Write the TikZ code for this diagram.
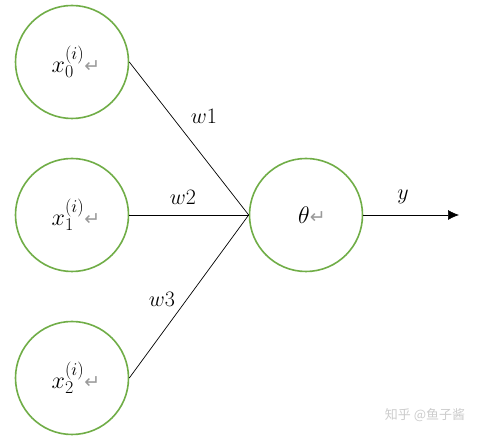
\documentclass[tikz,border=0pt]{standalone}
\usepackage{fontspec}
\usepackage{fix-cm}
\newfontfamily\symfont{DejaVu Sans}
\newfontfamily\cjk{Noto Sans CJK SC}
\usetikzlibrary{arrows.meta}
\definecolor{ringgreen}{HTML}{70AD47}
\definecolor{retgray}{HTML}{9A9A9A}
\DeclareMathSizes{24}{24}{18}{14}
\newcommand{\retmark}{{\color{retgray}\symfont\fontsize{19}{22}\selectfont ↵}}
\newcommand{\bigtxt}{\fontsize{24}{28}\selectfont}
\newcommand{\wtxt}{\fontsize{22}{26}\selectfont}
\begin{document}
\begin{tikzpicture}[x=1pt,y=1pt,
  neuron/.style={circle,draw=ringgreen,line width=1.6pt,minimum size=113pt,inner sep=0pt},
  conn/.style={black,line width=0.7pt},
  lbl/.style={inner sep=0pt}]
\useasboundingbox (0,0) rectangle (480,438);
\node[neuron] (x0) at (72,376) {\bigtxt\hspace*{8pt}$x_0^{(i)}$\retmark};
\node[neuron] (x1) at (72,223) {\bigtxt\hspace*{8pt}$x_1^{(i)}$\retmark};
\node[neuron] (x2) at (72,60) {\bigtxt\hspace*{8pt}$x_2^{(i)}$\retmark};
\node[neuron] (th) at (306,223) {\bigtxt\hspace*{12pt}$\theta$\retmark};
\coordinate (hub) at (th.west);
\coordinate (out) at (459,223);
\draw[conn] (x0.east) -- (hub);
\draw[conn] (x1.east) -- (hub);
\draw[conn] (x2.east) -- (hub);
\draw[conn,-{Latex[length=11pt,width=10pt]}] (th.east) -- (out);
\node[lbl] (w1) at (204,322) {\wtxt$w1$};
\node[lbl] (w2) at (183,241) {\wtxt$w2$};
\node[lbl] (w3) at (162,139) {\wtxt$w3$};
\node[lbl] (y) at (403,241) {\wtxt$y$};
\node[font=\cjk\fontsize{13}{15}\selectfont,text=gray!40] (wm) at (425,23) {知乎 @鱼子酱};
\end{tikzpicture}
\end{document}
